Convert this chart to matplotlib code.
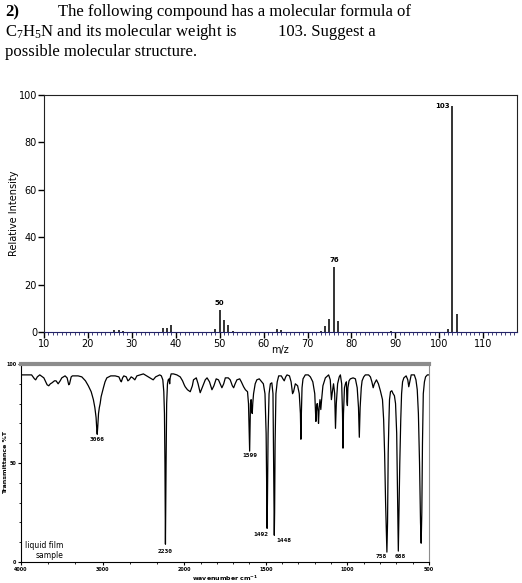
import numpy as np
import matplotlib
matplotlib.use("Agg")
import matplotlib.pyplot as plt
from matplotlib.ticker import MultipleLocator, FixedLocator

plt.rcParams['mathtext.default'] = 'regular'

# mass spectrum (m/z, relative intensity)
ms_mz = [26, 27, 28, 37, 38, 39, 49, 50, 51, 52, 53, 63, 64, 73, 74, 75, 76, 77, 89, 102, 103, 104]
ms_int = [1.0, 0.7, 0.4, 1.7, 1.7, 2.8, 1.4, 9.1, 5.2, 3.1, 0.6, 1.4, 0.7, 0.6, 2.4, 5.5, 27.3, 4.5, 0.4, 1.3, 95.5, 7.6]
ms_labels = [50, 76, 103]

# IR spectrum, traced (wavenumber cm-1, %T)
ir_wn = [4000, 3870, 3835, 3820, 3800, 3770, 3720, 3680, 3660, 3640, 3620, 3590, 3570, 3545, 3520,
         3500, 3460, 3435, 3415, 3405, 3385, 3370, 3300, 3255, 3210, 3175, 3140, 3113, 3095, 3080,
         3070, 3066, 3060, 3050, 3040, 3030, 3018, 3000, 2990, 2970, 2948, 2900, 2846, 2800, 2780,
         2770, 2755, 2740, 2710, 2690, 2675, 2650, 2630, 2605, 2580, 2540, 2500, 2460, 2420, 2380,
         2350, 2300, 2280, 2262, 2250, 2242, 2236, 2232, 2230, 2228, 2222, 2215, 2205, 2196, 2185,
         2178, 2172, 2160, 2131, 2090, 2049, 2020, 2000, 1994, 1980, 1963, 1950, 1943, 1926, 1915,
         1902, 1890, 1871, 1860, 1845, 1830, 1818, 1804, 1790, 1769, 1758, 1748, 1730, 1718, 1705,
         1697, 1688, 1677, 1660, 1650, 1636, 1625, 1612, 1606, 1601, 1599, 1597, 1594, 1590, 1586,
         1583, 1580, 1575, 1565, 1555, 1540, 1525, 1515, 1505, 1498, 1494, 1492, 1490, 1486, 1480,
         1472, 1463, 1456, 1452, 1449, 1448, 1446, 1443, 1438, 1430, 1421, 1405, 1395, 1387, 1378,
         1370, 1355, 1345, 1336, 1330, 1319, 1305, 1295, 1288, 1285, 1282, 1278, 1272, 1258, 1240,
         1227, 1212, 1200, 1193, 1189, 1185, 1180, 1177, 1173, 1168, 1163, 1158, 1150, 1135, 1115,
         1105, 1098, 1092, 1085, 1078, 1073, 1068, 1060, 1050, 1043, 1035, 1030, 1027, 1024, 1018,
         1012, 1006, 1003, 1000, 997, 990, 982, 965, 951, 940, 932, 927, 922, 915, 910,
         900, 890, 870, 859, 850, 842, 835, 822, 810, 798, 785, 778, 772, 766, 758,
         754, 750, 746, 742, 736, 728, 720, 712, 705, 698, 693, 688, 684, 679, 673,
         668, 662, 654, 640, 630, 624, 618, 609, 590, 580, 572, 565, 558, 552, 548,
         544, 540, 535, 528, 521, 510, 500]
ir_t = [94.5, 94.5, 92.5, 92, 93.5, 94.5, 93, 89.5, 89, 90, 90.5, 91.5, 91.5, 90, 91.5,
        93, 94, 93, 89.5, 90, 93.5, 94, 94, 93.5, 91.5, 89, 86, 82, 78, 73,
        66, 64.5, 68, 75, 78, 80, 83.5, 86.5, 88, 91, 93, 94, 94, 93.5, 91.5,
        91, 93, 94, 93.5, 91.5, 92, 93.5, 93, 92, 94, 94.5, 95, 94, 93, 92,
        93.5, 94.5, 94, 92, 86, 75, 50, 20, 9, 20, 50, 80, 90, 92, 92.5,
        90, 93, 95, 95, 94.5, 93.5, 91.5, 89.5, 88.5, 87, 86, 89, 92, 93, 90,
        85.5, 88, 92, 93, 91, 87, 89, 92.5, 92, 88, 90, 93, 93, 92, 89,
        88, 90, 92, 92.5, 91, 88.5, 87, 86, 80, 62, 56, 65, 80, 82, 76,
        75, 80, 85, 90, 92, 92.5, 91, 90, 85, 65, 30, 17, 30, 65, 85,
        90, 90.5, 85, 50, 20, 13.5, 25, 60, 85, 91, 94, 94, 92.5, 91.5, 93.5,
        94.5, 94, 91, 85, 86, 90, 89, 85, 75, 62, 75, 88, 92.5, 94.5, 94.5,
        93.5, 91, 85, 71, 78, 80, 76, 70, 78, 82, 77, 82, 89, 93, 94.5,
        92, 82, 86, 90, 85, 67.5, 80, 90, 93.5, 94.5, 90, 75, 57.5, 75, 88,
        90, 91, 81, 79, 88, 91.5, 92.5, 93, 92.5, 88, 78, 63, 78, 88, 91.5,
        93.5, 94.5, 94.5, 93.5, 91, 88, 90, 92, 90, 86.5, 82, 72, 55, 30, 5,
        20, 55, 70, 82, 86, 86.5, 85, 84, 80, 65, 35, 5.5, 25, 50, 72,
        85, 91, 93, 94, 92, 88.5, 91, 94.5, 94.5, 92, 87, 75, 50, 20, 9.5,
        25, 60, 85, 91, 93.5, 94.5, 94.5]

ir_peaks = [3066, 2230, 1599, 1492, 1448, 758, 688]
ir_peak_t = [64.5, 9, 56, 17, 13.5, 5, 5.5]
ir_peak_dx = [0, 0, 0, -6.3, 9.5, -5.4, 2]   # label shift in px
ir_peak_dy = [-5, -7.5, -4.7, -5.7, -5.4, -4.7, -5]

fig = plt.figure(figsize=(5.22, 5.83), dpi=100)

# question text
serif = 'Liberation Serif'
fs = 12
fig.text(5 / 522, 1 - 12 / 583, "2)", family=serif, size=fs, va='center', fontweight='bold')
fig.text(58 / 522, 1 - 12 / 583, "The following compound has a molecular formula of", family=serif, size=fs, va='center')
fig.text(5 / 522, 1 - 32 / 583, "C$_7$H$_5$N and its molecular weight is", family=serif, size=fs, va='center')
fig.text(278 / 522, 1 - 32 / 583, "103. Suggest a", family=serif, size=fs, va='center')
fig.text(5 / 522, 1 - 52 / 583, "possible molecular structure.", family=serif, size=fs, va='center')

# ---- mass spectrum ----
ax1 = fig.add_axes([44 / 522, 1 - 332 / 583, 473 / 522, 237 / 583])
ax1.vlines(ms_mz, 0, ms_int, color='#333333', lw=1.4)
ax1.set_xlim(10, 117.7)
ax1.set_ylim(0, 100)
ax1.xaxis.set_major_locator(MultipleLocator(10))
ax1.xaxis.set_minor_locator(MultipleLocator(1))
ax1.yaxis.set_major_locator(MultipleLocator(20))
ax1.tick_params(axis='both', labelsize=7, length=4, width=1, pad=1)
ax1.tick_params(axis='x', which='minor', length=2, width=0.6, color='#222266')
ax1.spines['bottom'].set_color('#222266')
ax1.spines['bottom'].set_linestyle((0, (1.5, 1)))
for s in ['top', 'right', 'left']:
    ax1.spines[s].set_color('#222222')
ax1.set_xlabel("m/z", fontsize=7, labelpad=-3)
ax1.set_ylabel("Relative Intensity", fontsize=7)
ax1.yaxis.set_label_coords(-0.052, 0.5)
for m in ms_labels:
    v = ms_int[ms_mz.index(m)]
    if m == 103:
        ax1.text(m - 0.7, v, str(m), fontsize=5, fontweight='bold', ha='right', va='center')
    else:
        ax1.annotate(str(m), (m, v), xytext=(0, 3), textcoords='offset points',
                     fontsize=5, fontweight='bold', ha='center', va='bottom')

# ---- IR spectrum ----
def fwd(w):
    w = np.asarray(w, dtype=float)
    return np.where(w >= 2000, w / 2.0, w - 1000.0)

def inv(u):
    u = np.asarray(u, dtype=float)
    return np.where(u >= 1000, u * 2.0, u + 1000.0)

ax2 = fig.add_axes([21 / 522, 1 - 562 / 583, 408 / 522, 198 / 583])
ax2.set_xscale('function', functions=(fwd, inv))
ax2.plot(ir_wn, ir_t, color='black', lw=0.9)
ax2.set_xlim(4000, 500)
ax2.set_ylim(0, 100)
ax2.xaxis.set_major_locator(FixedLocator([4000, 3000, 2000, 1500, 1000, 500]))
ax2.xaxis.set_minor_locator(FixedLocator([3667, 3333, 2667, 2333, 1900, 1800, 1700, 1600, 1400, 1300,
                                          1200, 1100, 900, 800, 700, 600]))
ax2.yaxis.set_major_locator(FixedLocator([0, 50, 100]))
ax2.yaxis.set_minor_locator(MultipleLocator(10))
ax2.tick_params(axis='both', labelsize=3.5, length=2.5, width=0.8, pad=1)
ax2.tick_params(axis='both', which='minor', length=1.5, width=0.6)
for lab in ax2.get_xticklabels() + ax2.get_yticklabels():
    lab.set_fontweight('bold')
ax2.spines['top'].set_linewidth(3)
ax2.spines['top'].set_color('#8c8c8c')
ax2.spines['right'].set_color('#8c8c8c')
ax2.set_xlabel("wavenumber cm$^{-1}$", fontsize=4.5, fontweight='bold', labelpad=1)
ax2.set_ylabel("Transmittance %T", fontsize=4.5, fontweight='bold')
ax2.yaxis.set_label_coords(-0.033, 0.5)
for w, t, dx, dy in zip(ir_peaks, ir_peak_t, ir_peak_dx, ir_peak_dy):
    ax2.annotate(str(w), (w, t), xytext=(dx * 0.72, dy * 0.72), textcoords='offset points',
                 fontsize=4.5, fontweight='bold', ha='center', va='center', family='DejaVu Sans Mono')
ax2.text(0.01, 0.085, "liquid film", transform=ax2.transAxes, fontsize=5.5, ha='left', va='center')
ax2.text(0.035, 0.035, "sample", transform=ax2.transAxes, fontsize=5.5, ha='left', va='center')

fig.savefig("out.png", dpi=100)
